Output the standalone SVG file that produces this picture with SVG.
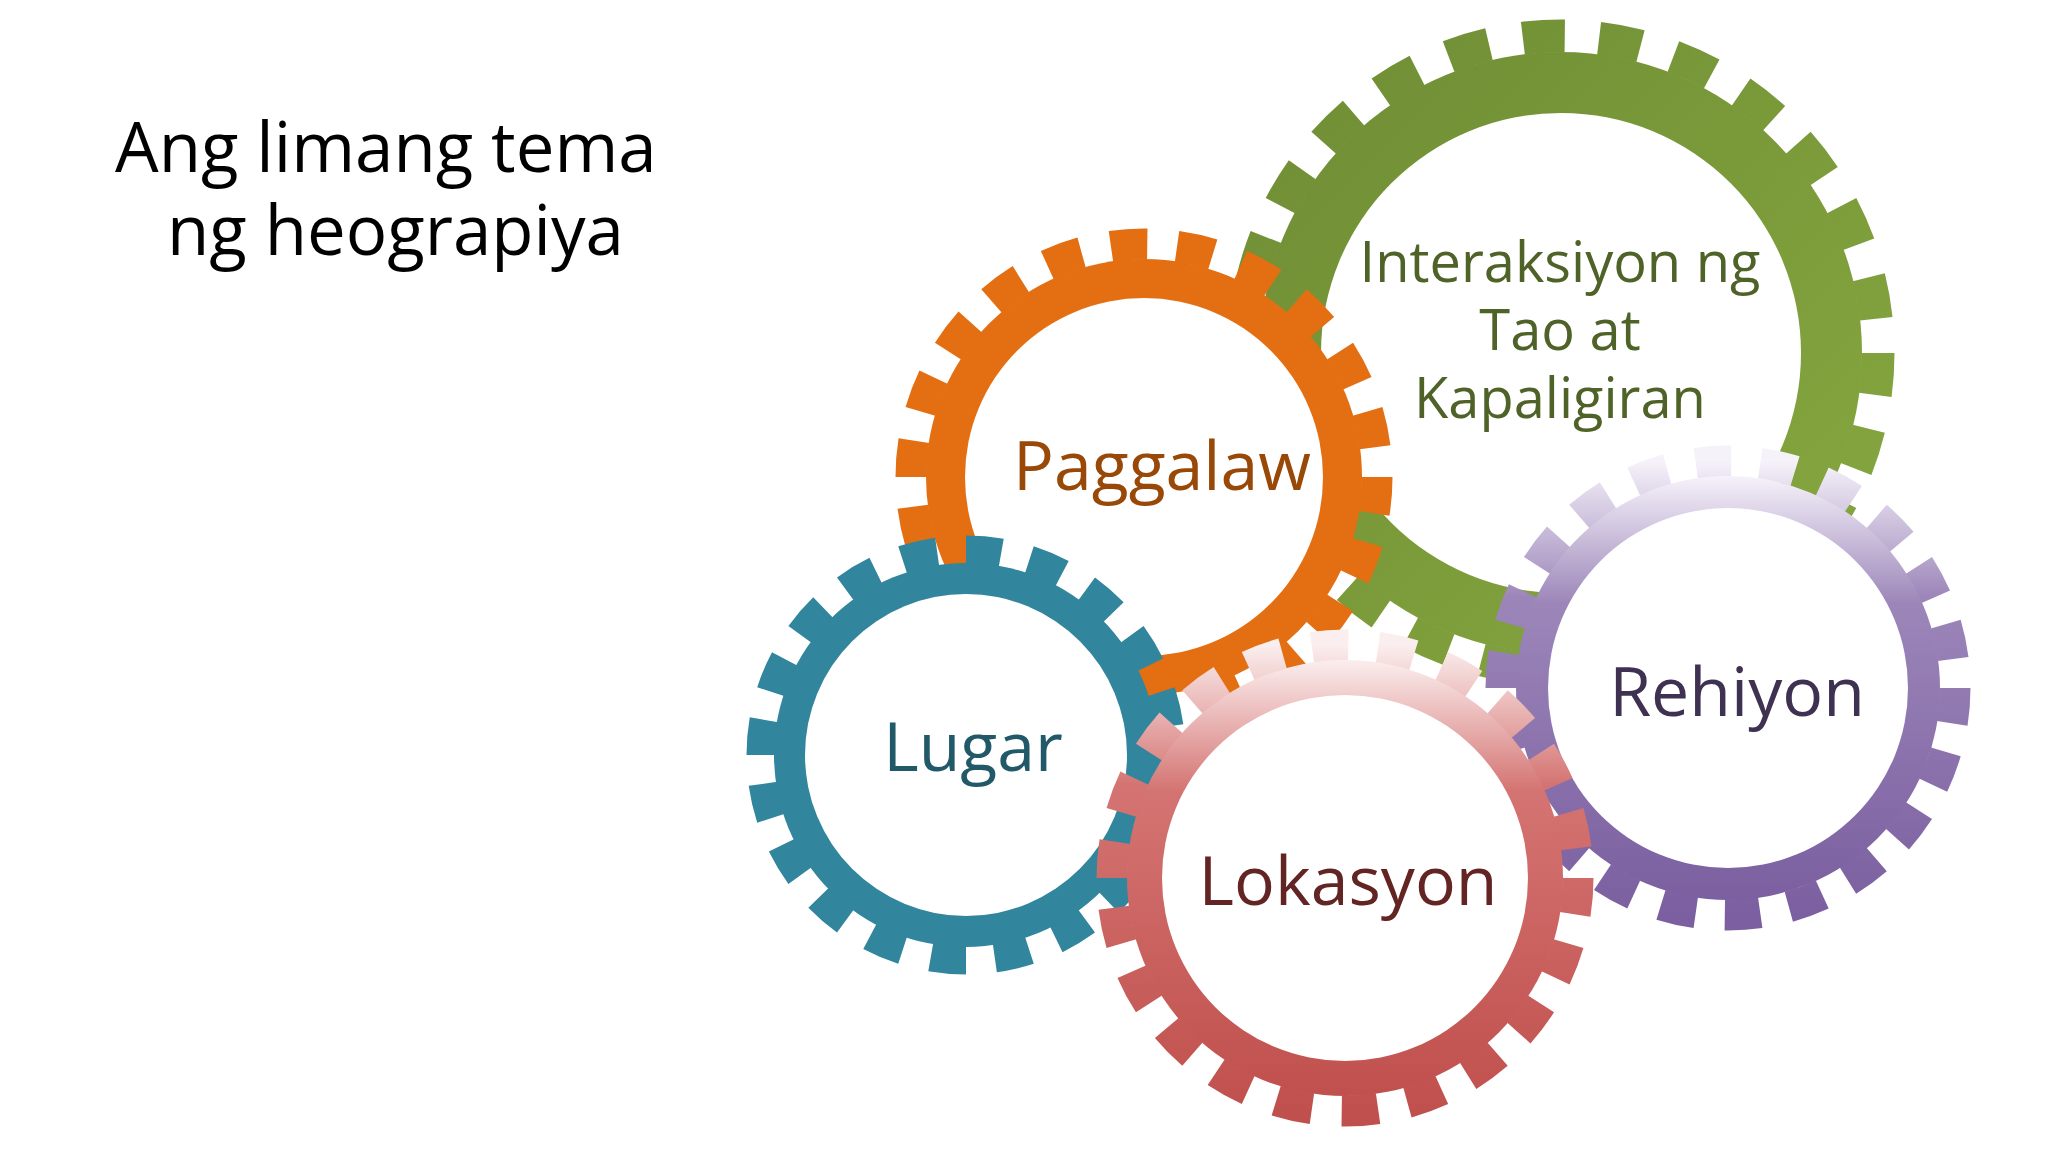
<svg xmlns="http://www.w3.org/2000/svg" width="2048" height="1152" viewBox="0 0 2048 1152">
<style>
text{font-family:"Open Sans","Noto Sans",sans-serif;text-anchor:middle}
.t{fill:#000;font-size:69px;text-anchor:start}
.hole{fill:#fff}
</style>
<defs>
<linearGradient id="gG" x1="0" y1="0" x2="1" y2="1"><stop offset="0" stop-color="#6f8d35"/><stop offset="1" stop-color="#86a83f"/></linearGradient>
<linearGradient id="gR" x1="0" y1="0" x2="0" y2="1"><stop offset="0" stop-color="#fbeeee"/><stop offset="0.3" stop-color="#d47472"/><stop offset="1" stop-color="#c0504d"/></linearGradient>
<linearGradient id="gP" x1="0" y1="0" x2="0" y2="1"><stop offset="0" stop-color="#f6f2fa"/><stop offset="0.3" stop-color="#9c86b9"/><stop offset="1" stop-color="#7b5fa0"/></linearGradient>
</defs>
<text class="t" x="115" y="172">Ang limang tema</text>
<text class="t" x="167" y="255">ng heograpiya</text>
<g id="green">
<circle cx="1561" cy="353" r="317" fill="none" stroke="url(#gG)" stroke-width="33" pathLength="52" stroke-dasharray="1.1 0.9"/>
<circle cx="1561" cy="353" r="301" fill="url(#gG)"/>
<circle class="hole" cx="1561" cy="353" r="240"/>
<text x="1560" y="282" font-size="56" fill="#4f6228">Interaksiyon ng</text>
<text x="1560" y="350" font-size="56" fill="#4f6228">Tao at</text>
<text x="1560" y="418" font-size="56" fill="#4f6228">Kapaligiran</text>
</g>
<g id="orange">
<circle cx="1144" cy="477" r="233" fill="none" stroke="#e36f12" stroke-width="31" pathLength="44" stroke-dasharray="1.1 0.9"/>
<circle cx="1144" cy="477" r="218" fill="#e36f12"/>
<circle class="hole" cx="1144" cy="477" r="179"/>
<text x="1162" y="490" font-size="68" fill="#984807">Paggalaw</text>
</g>
<g id="teal">
<circle cx="966" cy="755" r="205" fill="none" stroke="#31859c" stroke-width="29" pathLength="40" stroke-dasharray="1.1 0.9"/>
<circle cx="966" cy="755" r="192" fill="#31859c"/>
<circle class="hole" cx="966" cy="755" r="161"/>
<text x="973" y="771" font-size="68" fill="#215968">Lugar</text>
</g>
<g id="purple">
<circle cx="1728" cy="688" r="227" fill="none" stroke="url(#gP)" stroke-width="31" pathLength="44" stroke-dasharray="1.1 0.9"/>
<circle cx="1728" cy="688" r="212" fill="url(#gP)"/>
<circle class="hole" cx="1728" cy="688" r="180"/>
<text x="1737" y="716" font-size="68" fill="#3f3151">Rehiyon</text>
</g>
<g id="red">
<circle cx="1345" cy="878" r="233" fill="none" stroke="url(#gR)" stroke-width="31" pathLength="44" stroke-dasharray="1.1 0.9"/>
<circle cx="1345" cy="878" r="218" fill="url(#gR)"/>
<circle class="hole" cx="1345" cy="878" r="183"/>
<text x="1348" y="905" font-size="68" fill="#632523">Lokasyon</text>
</g>
<g id="connectors"/>
</svg>
